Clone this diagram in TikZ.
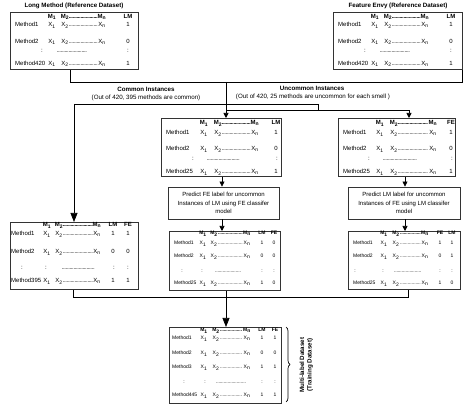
\documentclass[tikz,border=0pt]{standalone}
\usepackage{fontspec}
\setmainfont{Liberation Sans}
\usetikzlibrary{arrows.meta,decorations.pathreplacing}
\newcommand\dts[1]{\makebox[#1pt]{\leaders\hbox to 1.3pt{\hss.\hss}\hfill}}
\newcommand\sXa{X\textsubscript{1}}
\newcommand\sXb{X\textsubscript{2}}
\newcommand\sXn{X\textsubscript{n}}
\newcommand\sMa{M\textsubscript{1}}
\newcommand\sMb{M\textsubscript{2}}
\newcommand\sMn{M\textsubscript{n}}
\newcommand\xrow[8]{%
  \node[#1,anchor=base west] at (\cl,#2) {#3};
  \node[#1] at (\ca,#2) {#4};
  \node[#1] at (\cb,#2) {#5};
  \node[#1] at (\cn,#2) {#6};
  \pgfmathsetmacro\dw{\cn-\cb-8}\pgfmathsetmacro\dm{(\cn+\cb)/2}
  \node[#1] at (\dm,#2) {\dts{\dw}};
  \node[#1] at (\cu,#2) {#7};
  \node[#1] at (\cv,#2) {#8};
}
\begin{document}
\begin{tikzpicture}[x=1pt,y=-1pt,
  cellA/.style={inner sep=0pt,anchor=base,font=\fontsize{6}{7}\selectfont},
  cellAh/.style={inner sep=0pt,anchor=base,font=\fontsize{6}{7}\selectfont\bfseries},
  cellB/.style={inner sep=0pt,anchor=base,font=\fontsize{5}{6}\selectfont},
  cellBh/.style={inner sep=0pt,anchor=base,font=\fontsize{5}{6}\selectfont\bfseries},
  tbox/.style={draw=black!80,line width=0.9pt,inner sep=0pt,anchor=north west},
  lab/.style={inner sep=0pt,font=\fontsize{6.2}{7.5}\selectfont},
  labh/.style={inner sep=0pt,font=\fontsize{6.2}{7.5}\selectfont\bfseries},
  pbox/.style={draw=black!80,line width=0.9pt,inner sep=0pt,minimum width=111pt,minimum height=32pt,align=center,font=\fontsize{6}{8.3}\selectfont},
  conn/.style={draw=black,line width=0.7pt},
  arr/.style={-{Triangle[width=5pt,length=5pt]}},
  bigarr/.style={-{Triangle[width=7pt,length=9pt]}}]
\useasboundingbox[fill=white] (0,0) rectangle (474,411);

% ---------- boxes ----------
\node[tbox,minimum width=128pt,minimum height=57pt] (lmref) at (10,12) {};
\node[tbox,minimum width=129pt,minimum height=57pt] (feref) at (333,12) {};
\node[tbox,minimum width=120pt,minimum height=58pt] (unlm) at (161,118) {};
\node[tbox,minimum width=117pt,minimum height=58pt] (unfe) at (338,118) {};
\node[pbox] (predfe) at (223.5,203) {Predict FE label for uncommon\\Instances of LM using FE classifer\\model};
\node[pbox,minimum width=112pt] (predlm) at (404,203) {Predict LM label for uncommon\\Instances of FE using LM classifer\\model};
\node[tbox,minimum width=128pt,minimum height=67pt] (common) at (10,222) {};
\node[tbox,minimum width=111pt,minimum height=59pt] (lowlm) at (169,231) {};
\node[tbox,minimum width=112pt,minimum height=58pt] (lowfe) at (348,231) {};
\node[tbox,minimum width=112pt,minimum height=76pt] (multi) at (169,327) {};

% ---------- titles and labels ----------
\node[labh] (tlm) at (74,6) {Long Method (Reference Dataset)};
\node[labh] (tfe) at (398,6) {Feature Envy (Reference Dataset)};
\node[labh] (tcom) at (146,89) {Common Instances};
\node[lab] (tcom2) at (146,97.5) {(Out of 420, 395 methods are common)};
\node[labh] (tunc) at (312,88.5) {Uncommon Instances};
\node[lab] (tunc2) at (313,97) {(Out of 420, 25 methods are uncommon for each smell )};

% ---------- LM reference table ----------
\def\cl{15}\def\ca{52}\def\cb{65}\def\cn{102}\def\cu{128}\def\cv{0}
\xrow{cellAh}{18.5}{}{\sMa}{\sMb}{\sMn}{LM}{}
\xrow{cellA}{27}{Method1}{\sXa}{\sXb}{\sXn}{1}{}
\xrow{cellA}{43.5}{Method2}{\sXa}{\sXb}{\sXn}{0}{}
\node[cellA] at (42,53) {:}; \node[cellA] at (72.5,53) {\dts{31}}; \node[cellA] at (128,53) {:};
\xrow{cellA}{65.5}{Method420}{\sXa}{\sXb}{\sXn}{1}{}

% ---------- FE reference table ----------
\def\cl{338}\def\ca{375}\def\cb{388}\def\cn{425}\def\cu{451}\def\cv{400}
\xrow{cellAh}{18.5}{}{\sMa}{\sMb}{\sMn}{LM}{}
\xrow{cellA}{27}{Method1}{\sXa}{\sXb}{\sXn}{1}{}
\xrow{cellA}{43.5}{Method2}{\sXa}{\sXb}{\sXn}{0}{}
\node[cellA] at (365,53) {:}; \node[cellA] at (395.5,53) {\dts{31}}; \node[cellA] at (451,53) {:};
\xrow{cellA}{65.5}{Method420}{\sXa}{\sXb}{\sXn}{1}{}

% ---------- uncommon LM table ----------
\def\cl{166}\def\ca{204}\def\cb{218}\def\cn{255}\def\cu{276}\def\cv{220}
\xrow{cellAh}{125}{}{\sMa}{\sMb}{\sMn}{LM}{}
\xrow{cellA}{135}{Method1}{\sXa}{\sXb}{\sXn}{1}{}
\xrow{cellA}{151}{Method2}{\sXa}{\sXb}{\sXn}{0}{}
\node[cellA] at (193,161) {:}; \node[cellA] at (223.5,161) {\dts{33}}; \node[cellA] at (277,161) {:};
\xrow{cellA}{174}{Method25}{\sXa}{\sXb}{\sXn}{1}{}

% ---------- uncommon FE table ----------
\def\cl{343}\def\ca{380}\def\cb{394}\def\cn{433}\def\cu{451}\def\cv{400}
\xrow{cellAh}{125}{}{\sMa}{\sMb}{\sMn}{FE}{}
\xrow{cellA}{135}{Method1}{\sXa}{\sXb}{\sXn}{1}{}
\xrow{cellA}{151}{Method2}{\sXa}{\sXb}{\sXn}{0}{}
\node[cellA] at (369,161) {:}; \node[cellA] at (400,161) {\dts{34}}; \node[cellA] at (452,161) {:};
\xrow{cellA}{174}{Method25}{\sXa}{\sXb}{\sXn}{1}{}

% ---------- common table ----------
\def\cl{11}\def\ca{47}\def\cb{59}\def\cn{97}\def\cu{113}\def\cv{128}
\xrow{cellAh}{227}{}{\sMa}{\sMb}{\sMn}{LM}{FE}
\xrow{cellA}{236}{Method1}{\sXa}{\sXb}{\sXn}{1}{1}
\xrow{cellA}{254}{Method2}{\sXa}{\sXb}{\sXn}{0}{0}
\node[cellA] at (22,270) {:}; \node[cellA] at (46,270) {:}; \node[cellA] at (78.5,270) {\dts{33}};
\node[cellA] at (114,270) {:}; \node[cellA] at (128,270) {:};
\xrow{cellA}{283}{Method395}{\sXa}{\sXb}{\sXn}{1}{1}

% ---------- lower LM table ----------
\def\cl{174}\def\ca{203}\def\cb{214}\def\cn{247}\def\cu{262}\def\cv{274}
\xrow{cellBh}{234.5}{}{\sMa}{\sMb}{\sMn}{LM}{FE}
\xrow{cellB}{244.5}{Method1}{\sXa}{\sXb}{\sXn}{1}{0}
\xrow{cellB}{257.5}{Method2}{\sXa}{\sXb}{\sXn}{0}{0}
\node[cellB] at (182,272.5) {:}; \node[cellB] at (202,272.5) {:}; \node[cellB] at (228.5,272.5) {\dts{27}};
\node[cellB] at (262,272.5) {:}; \node[cellB] at (274,272.5) {:};
\xrow{cellB}{284.5}{Method25}{\sXa}{\sXb}{\sXn}{1}{0}

% ---------- lower FE table ----------
\def\cl{353}\def\ca{384}\def\cb{396}\def\cn{425}\def\cu{440}\def\cv{452}
\xrow{cellBh}{234.5}{}{\sMa}{\sMb}{\sMn}{FE}{LM}
\xrow{cellB}{244.5}{Method1}{\sXa}{\sXb}{\sXn}{1}{1}
\xrow{cellB}{257.5}{Method2}{\sXa}{\sXb}{\sXn}{0}{1}
\node[cellB] at (355,272.5) {:}; \node[cellB] at (383,272.5) {:}; \node[cellB] at (408,272.5) {\dts{28}};
\node[cellB] at (440,272.5) {:}; \node[cellB] at (452,272.5) {:};
\xrow{cellB}{284.5}{Method25}{\sXa}{\sXb}{\sXn}{1}{0}

% ---------- multi-label table ----------
\def\cl{172}\def\ca{204}\def\cb{216}\def\cn{247}\def\cu{262}\def\cv{275}
\xrow{cellBh}{331.5}{}{\sMa}{\sMb}{\sMn}{LM}{FE}
\xrow{cellB}{340}{Method1}{\sXa}{\sXb}{\sXn}{1}{1}
\xrow{cellB}{355}{Method2}{\sXa}{\sXb}{\sXn}{0}{0}
\xrow{cellB}{369}{Method3}{\sXa}{\sXb}{\sXn}{1}{1}
\node[cellB] at (184,384) {:}; \node[cellB] at (205,384) {:}; \node[cellB] at (231,384) {\dts{30}};
\node[cellB] at (262,384) {:}; \node[cellB] at (275,384) {:};
\xrow{cellB}{397}{Method445}{\sXa}{\sXb}{\sXn}{1}{1}

\draw[line width=0.7pt,decorate,decoration={brace,amplitude=4pt}] (286,327) -- (286,402);
\node[labh,rotate=90] (ml1) at (302,365) {Multi-label Dataset};
\node[labh,rotate=90] (ml2) at (310,365) {(Training Dataset)};

% ---------- connectors ----------
\coordinate (j1) at (70,82); \coordinate (j2) at (462,82); \coordinate (j3) at (226,82);
\draw[conn] (j1 |- lmref.south) -- (j1) -- (j2) -- (j2 |- feref.south);
\draw[conn,arr] (j3) -- (j3 |- unlm.north);
\coordinate (j4) at (74,104); \coordinate (j5) at (318,104); \coordinate (j6) at (318,110);
\coordinate (j7) at (226,110); \coordinate (j8) at (409,110);
\draw[conn] (j6) -- (j5) -- (j4);
\draw[conn,bigarr] (j4) -- (j4 |- common.north);
\draw[conn,arr] (j7) -- (j8) -- (j8 |- unfe.north);
\coordinate (k1) at (222,0); \coordinate (k2) at (405,0);
\draw[conn,arr] (k1 |- unlm.south) -- (k1 |- predfe.north);
\draw[conn,arr] (k1 |- predfe.south) -- (k1 |- lowlm.north);
\draw[conn,arr] (k2 |- unfe.south) -- (k2 |- predlm.north);
\draw[conn,arr] (k2 |- predlm.south) -- (k2 |- lowfe.north);
\coordinate (m1) at (73,297); \coordinate (m2) at (408,297); \coordinate (m3) at (226,0);
\draw[conn] (m1 |- common.south) -- (m1) -- (m2) -- (m2 |- lowfe.south);
\draw[conn,bigarr] (m3 |- lowlm.south) -- (m3 |- multi.north);
\end{tikzpicture}
\end{document}
